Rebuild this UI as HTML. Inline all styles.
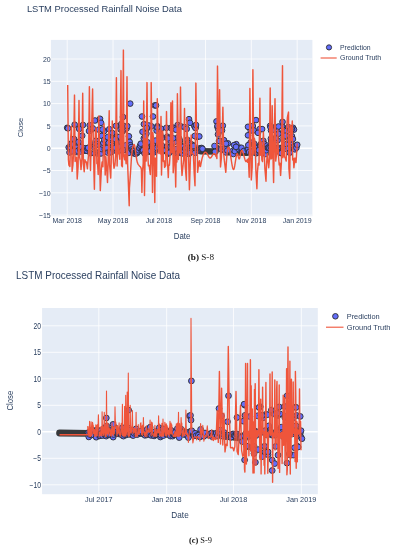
<!DOCTYPE html>
<html><head><meta charset="utf-8"><title>LSTM Processed Rainfall Noise Data</title>
<style>html,body{margin:0;padding:0;background:#fff;}body{width:394px;height:550px;overflow:hidden;}svg{display:block;}</style>
</head><body>
<svg width="394" height="550" viewBox="0 0 394 550">
<rect width="394" height="550" fill="#fff"/>
<rect x="50.9" y="39.9" width="261.50" height="176.30" fill="#e5ecf6"/>
<line x1="50.9" x2="312.4" y1="215.10" y2="215.10" stroke="#fff" stroke-width="0.8"/>
<line x1="50.9" x2="312.4" y1="192.80" y2="192.80" stroke="#fff" stroke-width="0.8"/>
<line x1="50.9" x2="312.4" y1="170.50" y2="170.50" stroke="#fff" stroke-width="0.8"/>
<line x1="50.9" x2="312.4" y1="148.20" y2="148.20" stroke="#fff" stroke-width="1.6"/>
<line x1="50.9" x2="312.4" y1="125.90" y2="125.90" stroke="#fff" stroke-width="0.8"/>
<line x1="50.9" x2="312.4" y1="103.60" y2="103.60" stroke="#fff" stroke-width="0.8"/>
<line x1="50.9" x2="312.4" y1="81.30" y2="81.30" stroke="#fff" stroke-width="0.8"/>
<line x1="50.9" x2="312.4" y1="59.00" y2="59.00" stroke="#fff" stroke-width="0.8"/>
<line x1="67.20" x2="67.20" y1="39.9" y2="216.2" stroke="#fff" stroke-width="0.8"/>
<line x1="113.04" x2="113.04" y1="39.9" y2="216.2" stroke="#fff" stroke-width="0.8"/>
<line x1="158.88" x2="158.88" y1="39.9" y2="216.2" stroke="#fff" stroke-width="0.8"/>
<line x1="205.48" x2="205.48" y1="39.9" y2="216.2" stroke="#fff" stroke-width="0.8"/>
<line x1="251.32" x2="251.32" y1="39.9" y2="216.2" stroke="#fff" stroke-width="0.8"/>
<line x1="297.16" x2="297.16" y1="39.9" y2="216.2" stroke="#fff" stroke-width="0.8"/>
<clipPath id="c1"><rect x="50.9" y="39.9" width="261.50" height="176.30"/></clipPath>
<path d="M200.8,151.3 L215.5,151.5" stroke="#37393b" stroke-width="6.4" stroke-linecap="round" fill="none"/>
<path d="M226.5,152.2 L247.0,152.7" stroke="#37393b" stroke-width="6.4" stroke-linecap="round" fill="none"/>
<g clip-path="url(#c1)" fill="#636efa" stroke="#2b2d30" stroke-width="0.9">
<circle cx="67.2" cy="127.8" r="2.85"/>
<circle cx="68.0" cy="128.3" r="2.85"/>
<circle cx="68.7" cy="147.4" r="2.85"/>
<circle cx="69.5" cy="152.4" r="2.85"/>
<circle cx="70.2" cy="147.1" r="2.85"/>
<circle cx="71.0" cy="143.9" r="2.85"/>
<circle cx="71.7" cy="143.2" r="2.85"/>
<circle cx="72.5" cy="151.3" r="2.85"/>
<circle cx="73.2" cy="144.6" r="2.85"/>
<circle cx="74.0" cy="139.0" r="2.85"/>
<circle cx="74.7" cy="124.7" r="2.85"/>
<circle cx="75.5" cy="147.5" r="2.85"/>
<circle cx="76.2" cy="147.8" r="2.85"/>
<circle cx="77.0" cy="152.1" r="2.85"/>
<circle cx="77.7" cy="150.8" r="2.85"/>
<circle cx="78.5" cy="141.9" r="2.85"/>
<circle cx="79.2" cy="128.9" r="2.85"/>
<circle cx="80.0" cy="148.9" r="2.85"/>
<circle cx="80.7" cy="151.5" r="2.85"/>
<circle cx="81.5" cy="146.9" r="2.85"/>
<circle cx="82.2" cy="135.7" r="2.85"/>
<circle cx="83.0" cy="125.0" r="2.85"/>
<circle cx="83.7" cy="150.7" r="2.85"/>
<circle cx="84.5" cy="149.2" r="2.85"/>
<circle cx="85.2" cy="148.3" r="2.85"/>
<circle cx="86.0" cy="150.8" r="2.85"/>
<circle cx="86.7" cy="150.6" r="2.85"/>
<circle cx="87.5" cy="148.4" r="2.85"/>
<circle cx="88.2" cy="147.8" r="2.85"/>
<circle cx="89.0" cy="131.0" r="2.85"/>
<circle cx="89.7" cy="125.3" r="2.85"/>
<circle cx="90.5" cy="153.2" r="2.85"/>
<circle cx="91.2" cy="144.4" r="2.85"/>
<circle cx="92.0" cy="129.3" r="2.85"/>
<circle cx="92.8" cy="128.3" r="2.85"/>
<circle cx="93.5" cy="146.7" r="2.85"/>
<circle cx="94.3" cy="153.3" r="2.85"/>
<circle cx="95.0" cy="145.6" r="2.85"/>
<circle cx="95.8" cy="140.7" r="2.85"/>
<circle cx="96.5" cy="143.9" r="2.85"/>
<circle cx="97.3" cy="152.5" r="2.85"/>
<circle cx="98.0" cy="153.4" r="2.85"/>
<circle cx="98.8" cy="129.6" r="2.85"/>
<circle cx="99.5" cy="145.6" r="2.85"/>
<circle cx="100.3" cy="153.2" r="2.85"/>
<circle cx="101.0" cy="153.4" r="2.85"/>
<circle cx="101.8" cy="149.0" r="2.85"/>
<circle cx="102.5" cy="144.6" r="2.85"/>
<circle cx="103.3" cy="142.9" r="2.85"/>
<circle cx="104.0" cy="131.2" r="2.85"/>
<circle cx="104.8" cy="149.2" r="2.85"/>
<circle cx="105.5" cy="151.5" r="2.85"/>
<circle cx="106.3" cy="151.6" r="2.85"/>
<circle cx="107.0" cy="148.0" r="2.85"/>
<circle cx="107.8" cy="152.6" r="2.85"/>
<circle cx="108.5" cy="142.5" r="2.85"/>
<circle cx="109.3" cy="129.2" r="2.85"/>
<circle cx="110.0" cy="151.9" r="2.85"/>
<circle cx="110.8" cy="152.3" r="2.85"/>
<circle cx="111.5" cy="145.1" r="2.85"/>
<circle cx="112.3" cy="133.0" r="2.85"/>
<circle cx="113.0" cy="146.2" r="2.85"/>
<circle cx="113.8" cy="150.5" r="2.85"/>
<circle cx="114.5" cy="149.1" r="2.85"/>
<circle cx="115.3" cy="147.7" r="2.85"/>
<circle cx="116.0" cy="125.9" r="2.85"/>
<circle cx="116.8" cy="136.6" r="2.85"/>
<circle cx="117.6" cy="144.5" r="2.85"/>
<circle cx="118.3" cy="142.7" r="2.85"/>
<circle cx="119.1" cy="145.9" r="2.85"/>
<circle cx="119.8" cy="147.2" r="2.85"/>
<circle cx="120.6" cy="129.6" r="2.85"/>
<circle cx="121.3" cy="124.0" r="2.85"/>
<circle cx="122.1" cy="150.6" r="2.85"/>
<circle cx="122.8" cy="131.1" r="2.85"/>
<circle cx="123.6" cy="126.0" r="2.85"/>
<circle cx="124.3" cy="147.6" r="2.85"/>
<circle cx="125.1" cy="150.0" r="2.85"/>
<circle cx="125.8" cy="145.3" r="2.85"/>
<circle cx="126.6" cy="128.4" r="2.85"/>
<circle cx="127.3" cy="126.2" r="2.85"/>
<circle cx="128.1" cy="150.8" r="2.85"/>
<circle cx="128.8" cy="152.8" r="2.85"/>
<circle cx="129.6" cy="141.8" r="2.85"/>
<circle cx="130.3" cy="145.2" r="2.85"/>
<circle cx="131.1" cy="147.1" r="2.85"/>
<circle cx="131.8" cy="149.5" r="2.85"/>
<circle cx="132.6" cy="150.9" r="2.85"/>
<circle cx="133.3" cy="151.3" r="2.85"/>
<circle cx="134.1" cy="153.4" r="2.85"/>
<circle cx="134.8" cy="152.8" r="2.85"/>
<circle cx="135.6" cy="153.8" r="2.85"/>
<circle cx="136.3" cy="152.3" r="2.85"/>
<circle cx="137.1" cy="153.0" r="2.85"/>
<circle cx="137.8" cy="151.8" r="2.85"/>
<circle cx="138.6" cy="150.3" r="2.85"/>
<circle cx="139.3" cy="147.9" r="2.85"/>
<circle cx="140.1" cy="145.6" r="2.85"/>
<circle cx="140.8" cy="143.7" r="2.85"/>
<circle cx="141.6" cy="150.9" r="2.85"/>
<circle cx="142.3" cy="150.1" r="2.85"/>
<circle cx="143.1" cy="150.3" r="2.85"/>
<circle cx="143.9" cy="124.2" r="2.85"/>
<circle cx="144.6" cy="153.5" r="2.85"/>
<circle cx="145.4" cy="141.7" r="2.85"/>
<circle cx="146.1" cy="147.4" r="2.85"/>
<circle cx="146.9" cy="128.5" r="2.85"/>
<circle cx="147.6" cy="142.3" r="2.85"/>
<circle cx="148.4" cy="148.7" r="2.85"/>
<circle cx="149.1" cy="151.8" r="2.85"/>
<circle cx="149.9" cy="150.7" r="2.85"/>
<circle cx="150.6" cy="151.1" r="2.85"/>
<circle cx="151.4" cy="126.3" r="2.85"/>
<circle cx="152.1" cy="147.0" r="2.85"/>
<circle cx="152.9" cy="144.9" r="2.85"/>
<circle cx="153.6" cy="143.7" r="2.85"/>
<circle cx="154.4" cy="152.2" r="2.85"/>
<circle cx="155.1" cy="150.4" r="2.85"/>
<circle cx="155.9" cy="149.3" r="2.85"/>
<circle cx="156.6" cy="147.8" r="2.85"/>
<circle cx="157.4" cy="126.2" r="2.85"/>
<circle cx="158.1" cy="143.9" r="2.85"/>
<circle cx="158.9" cy="147.4" r="2.85"/>
<circle cx="159.6" cy="136.9" r="2.85"/>
<circle cx="160.4" cy="146.1" r="2.85"/>
<circle cx="161.1" cy="128.7" r="2.85"/>
<circle cx="161.9" cy="145.6" r="2.85"/>
<circle cx="162.6" cy="137.6" r="2.85"/>
<circle cx="163.4" cy="151.0" r="2.85"/>
<circle cx="164.1" cy="150.4" r="2.85"/>
<circle cx="164.9" cy="150.5" r="2.85"/>
<circle cx="165.6" cy="150.1" r="2.85"/>
<circle cx="166.4" cy="127.8" r="2.85"/>
<circle cx="167.1" cy="146.6" r="2.85"/>
<circle cx="167.9" cy="153.7" r="2.85"/>
<circle cx="168.7" cy="148.7" r="2.85"/>
<circle cx="169.4" cy="152.7" r="2.85"/>
<circle cx="170.2" cy="147.1" r="2.85"/>
<circle cx="170.9" cy="127.9" r="2.85"/>
<circle cx="171.7" cy="147.6" r="2.85"/>
<circle cx="172.4" cy="127.4" r="2.85"/>
<circle cx="173.2" cy="150.9" r="2.85"/>
<circle cx="173.9" cy="149.0" r="2.85"/>
<circle cx="174.7" cy="141.8" r="2.85"/>
<circle cx="175.4" cy="151.6" r="2.85"/>
<circle cx="176.2" cy="152.9" r="2.85"/>
<circle cx="176.9" cy="148.9" r="2.85"/>
<circle cx="177.7" cy="125.0" r="2.85"/>
<circle cx="178.4" cy="153.0" r="2.85"/>
<circle cx="179.2" cy="138.6" r="2.85"/>
<circle cx="179.9" cy="140.9" r="2.85"/>
<circle cx="180.7" cy="126.3" r="2.85"/>
<circle cx="181.4" cy="145.9" r="2.85"/>
<circle cx="182.2" cy="153.4" r="2.85"/>
<circle cx="182.9" cy="147.0" r="2.85"/>
<circle cx="183.7" cy="150.5" r="2.85"/>
<circle cx="184.4" cy="127.1" r="2.85"/>
<circle cx="185.2" cy="148.7" r="2.85"/>
<circle cx="185.9" cy="152.6" r="2.85"/>
<circle cx="186.7" cy="128.9" r="2.85"/>
<circle cx="187.4" cy="139.9" r="2.85"/>
<circle cx="188.2" cy="142.8" r="2.85"/>
<circle cx="188.9" cy="153.9" r="2.85"/>
<circle cx="189.7" cy="152.7" r="2.85"/>
<circle cx="190.4" cy="147.6" r="2.85"/>
<circle cx="191.2" cy="144.3" r="2.85"/>
<circle cx="191.9" cy="146.9" r="2.85"/>
<circle cx="192.7" cy="145.0" r="2.85"/>
<circle cx="193.5" cy="146.1" r="2.85"/>
<circle cx="194.2" cy="151.7" r="2.85"/>
<circle cx="195.0" cy="152.9" r="2.85"/>
<circle cx="195.7" cy="127.6" r="2.85"/>
<circle cx="196.5" cy="136.8" r="2.85"/>
<circle cx="197.2" cy="137.0" r="2.85"/>
<circle cx="198.0" cy="150.5" r="2.85"/>
<circle cx="198.7" cy="149.1" r="2.85"/>
<circle cx="199.5" cy="149.3" r="2.85"/>
<circle cx="200.2" cy="148.2" r="2.85"/>
<circle cx="201.0" cy="148.8" r="2.85"/>
<circle cx="201.7" cy="148.0" r="2.85"/>
<circle cx="202.5" cy="148.8" r="2.85"/>
<circle cx="216.7" cy="147.9" r="2.85"/>
<circle cx="217.5" cy="127.0" r="2.85"/>
<circle cx="218.3" cy="129.4" r="2.85"/>
<circle cx="219.0" cy="141.0" r="2.85"/>
<circle cx="219.8" cy="127.1" r="2.85"/>
<circle cx="220.5" cy="148.8" r="2.85"/>
<circle cx="221.3" cy="149.3" r="2.85"/>
<circle cx="222.0" cy="141.2" r="2.85"/>
<circle cx="222.8" cy="125.7" r="2.85"/>
<circle cx="223.5" cy="142.4" r="2.85"/>
<circle cx="224.3" cy="150.0" r="2.85"/>
<circle cx="225.0" cy="147.8" r="2.85"/>
<circle cx="225.8" cy="152.3" r="2.85"/>
<circle cx="226.5" cy="148.4" r="2.85"/>
<circle cx="227.3" cy="150.5" r="2.85"/>
<circle cx="228.0" cy="143.4" r="2.85"/>
<circle cx="232.5" cy="151.0" r="2.85"/>
<circle cx="233.3" cy="154.0" r="2.85"/>
<circle cx="234.8" cy="151.1" r="2.85"/>
<circle cx="236.3" cy="144.2" r="2.85"/>
<circle cx="238.5" cy="148.9" r="2.85"/>
<circle cx="240.0" cy="147.8" r="2.85"/>
<circle cx="241.5" cy="147.8" r="2.85"/>
<circle cx="243.8" cy="151.0" r="2.85"/>
<circle cx="247.6" cy="149.4" r="2.85"/>
<circle cx="248.3" cy="148.7" r="2.85"/>
<circle cx="249.1" cy="152.1" r="2.85"/>
<circle cx="249.8" cy="127.2" r="2.85"/>
<circle cx="250.6" cy="142.5" r="2.85"/>
<circle cx="251.3" cy="153.0" r="2.85"/>
<circle cx="252.1" cy="151.5" r="2.85"/>
<circle cx="252.8" cy="126.0" r="2.85"/>
<circle cx="253.6" cy="144.6" r="2.85"/>
<circle cx="254.3" cy="143.8" r="2.85"/>
<circle cx="255.1" cy="147.7" r="2.85"/>
<circle cx="255.8" cy="153.0" r="2.85"/>
<circle cx="256.6" cy="153.1" r="2.85"/>
<circle cx="257.3" cy="152.2" r="2.85"/>
<circle cx="258.1" cy="150.5" r="2.85"/>
<circle cx="258.8" cy="150.2" r="2.85"/>
<circle cx="259.6" cy="129.1" r="2.85"/>
<circle cx="260.3" cy="145.0" r="2.85"/>
<circle cx="261.1" cy="143.7" r="2.85"/>
<circle cx="261.8" cy="143.2" r="2.85"/>
<circle cx="262.6" cy="147.7" r="2.85"/>
<circle cx="263.3" cy="140.8" r="2.85"/>
<circle cx="264.1" cy="143.8" r="2.85"/>
<circle cx="264.8" cy="149.6" r="2.85"/>
<circle cx="265.6" cy="153.9" r="2.85"/>
<circle cx="266.3" cy="150.3" r="2.85"/>
<circle cx="267.1" cy="145.6" r="2.85"/>
<circle cx="267.9" cy="147.9" r="2.85"/>
<circle cx="268.6" cy="147.3" r="2.85"/>
<circle cx="269.4" cy="147.9" r="2.85"/>
<circle cx="270.1" cy="125.9" r="2.85"/>
<circle cx="270.9" cy="146.9" r="2.85"/>
<circle cx="271.6" cy="148.6" r="2.85"/>
<circle cx="272.4" cy="127.3" r="2.85"/>
<circle cx="273.1" cy="148.7" r="2.85"/>
<circle cx="273.9" cy="148.9" r="2.85"/>
<circle cx="274.6" cy="128.8" r="2.85"/>
<circle cx="275.4" cy="127.9" r="2.85"/>
<circle cx="276.1" cy="149.3" r="2.85"/>
<circle cx="276.9" cy="147.9" r="2.85"/>
<circle cx="277.6" cy="140.4" r="2.85"/>
<circle cx="278.4" cy="147.8" r="2.85"/>
<circle cx="279.1" cy="149.6" r="2.85"/>
<circle cx="279.9" cy="152.1" r="2.85"/>
<circle cx="280.6" cy="152.8" r="2.85"/>
<circle cx="281.4" cy="153.1" r="2.85"/>
<circle cx="282.1" cy="126.2" r="2.85"/>
<circle cx="282.9" cy="147.0" r="2.85"/>
<circle cx="283.6" cy="137.6" r="2.85"/>
<circle cx="284.4" cy="145.6" r="2.85"/>
<circle cx="285.1" cy="147.1" r="2.85"/>
<circle cx="285.9" cy="148.8" r="2.85"/>
<circle cx="286.6" cy="144.1" r="2.85"/>
<circle cx="287.4" cy="130.3" r="2.85"/>
<circle cx="288.1" cy="127.1" r="2.85"/>
<circle cx="288.9" cy="148.4" r="2.85"/>
<circle cx="289.6" cy="152.7" r="2.85"/>
<circle cx="290.4" cy="139.1" r="2.85"/>
<circle cx="291.1" cy="142.2" r="2.85"/>
<circle cx="291.9" cy="137.0" r="2.85"/>
<circle cx="292.6" cy="129.2" r="2.85"/>
<circle cx="293.4" cy="147.2" r="2.85"/>
<circle cx="294.2" cy="148.5" r="2.85"/>
<circle cx="294.9" cy="149.3" r="2.85"/>
<circle cx="295.7" cy="145.9" r="2.85"/>
<circle cx="296.4" cy="147.7" r="2.85"/>
<circle cx="297.2" cy="144.8" r="2.85"/>
<circle cx="101.9" cy="135.9" r="2.85"/>
<circle cx="119.5" cy="136.9" r="2.85"/>
<circle cx="104.3" cy="139.8" r="2.85"/>
<circle cx="110.7" cy="137.8" r="2.85"/>
<circle cx="116.2" cy="140.6" r="2.85"/>
<circle cx="107.6" cy="137.1" r="2.85"/>
<circle cx="102.5" cy="129.4" r="2.85"/>
<circle cx="115.4" cy="139.2" r="2.85"/>
<circle cx="122.2" cy="130.7" r="2.85"/>
<circle cx="128.9" cy="136.3" r="2.85"/>
<circle cx="155.3" cy="140.6" r="2.85"/>
<circle cx="170.0" cy="140.6" r="2.85"/>
<circle cx="167.3" cy="136.7" r="2.85"/>
<circle cx="167.9" cy="138.4" r="2.85"/>
<circle cx="148.8" cy="125.5" r="2.85"/>
<circle cx="174.7" cy="128.6" r="2.85"/>
<circle cx="194.3" cy="126.0" r="2.85"/>
<circle cx="142.5" cy="131.8" r="2.85"/>
<circle cx="146.7" cy="127.9" r="2.85"/>
<circle cx="176.0" cy="129.7" r="2.85"/>
<circle cx="160.5" cy="136.4" r="2.85"/>
<circle cx="156.6" cy="130.6" r="2.85"/>
<circle cx="199.3" cy="136.4" r="2.85"/>
<circle cx="159.9" cy="133.6" r="2.85"/>
<circle cx="195.4" cy="127.9" r="2.85"/>
<circle cx="177.8" cy="137.5" r="2.85"/>
<circle cx="143.8" cy="138.3" r="2.85"/>
<circle cx="157.4" cy="127.4" r="2.85"/>
<circle cx="146.4" cy="133.6" r="2.85"/>
<circle cx="173.2" cy="138.3" r="2.85"/>
<circle cx="194.7" cy="136.0" r="2.85"/>
<circle cx="145.1" cy="136.6" r="2.85"/>
<circle cx="291.9" cy="136.2" r="2.85"/>
<circle cx="271.2" cy="140.9" r="2.85"/>
<circle cx="293.1" cy="127.8" r="2.85"/>
<circle cx="271.0" cy="130.4" r="2.85"/>
<circle cx="294.0" cy="129.6" r="2.85"/>
<circle cx="292.9" cy="139.1" r="2.85"/>
<circle cx="275.8" cy="137.8" r="2.85"/>
<circle cx="286.5" cy="131.0" r="2.85"/>
<circle cx="262.1" cy="129.1" r="2.85"/>
<circle cx="253.7" cy="130.4" r="2.85"/>
<circle cx="277.6" cy="131.5" r="2.85"/>
<circle cx="250.7" cy="130.6" r="2.85"/>
<circle cx="270.9" cy="138.7" r="2.85"/>
<circle cx="278.4" cy="133.8" r="2.85"/>
<circle cx="285.6" cy="135.8" r="2.85"/>
<circle cx="291.9" cy="129.2" r="2.85"/>
<circle cx="258.0" cy="132.8" r="2.85"/>
<circle cx="290.4" cy="129.5" r="2.85"/>
<circle cx="272.3" cy="129.9" r="2.85"/>
<circle cx="278.5" cy="126.5" r="2.85"/>
<circle cx="270.6" cy="127.3" r="2.85"/>
<circle cx="289.5" cy="140.2" r="2.85"/>
<circle cx="130.2" cy="103.6" r="2.85"/>
<circle cx="154.8" cy="105.4" r="2.85"/>
<circle cx="156.0" cy="105.4" r="2.85"/>
<circle cx="95.0" cy="120.5" r="2.85"/>
<circle cx="100.0" cy="118.8" r="2.85"/>
<circle cx="101.0" cy="122.8" r="2.85"/>
<circle cx="123.0" cy="117.0" r="2.85"/>
<circle cx="142.0" cy="116.5" r="2.85"/>
<circle cx="153.0" cy="116.5" r="2.85"/>
<circle cx="189.0" cy="119.2" r="2.85"/>
<circle cx="190.0" cy="122.8" r="2.85"/>
<circle cx="196.0" cy="125.0" r="2.85"/>
<circle cx="216.5" cy="121.4" r="2.85"/>
<circle cx="217.5" cy="125.9" r="2.85"/>
<circle cx="218.0" cy="134.4" r="2.85"/>
<circle cx="219.5" cy="141.1" r="2.85"/>
<circle cx="222.0" cy="130.4" r="2.85"/>
<circle cx="224.0" cy="140.2" r="2.85"/>
<circle cx="226.0" cy="143.7" r="2.85"/>
<circle cx="214.5" cy="146.0" r="2.85"/>
<circle cx="215.0" cy="151.8" r="2.85"/>
<circle cx="234.0" cy="145.1" r="2.85"/>
<circle cx="236.0" cy="146.9" r="2.85"/>
<circle cx="248.0" cy="126.8" r="2.85"/>
<circle cx="248.0" cy="135.3" r="2.85"/>
<circle cx="248.3" cy="145.1" r="2.85"/>
<circle cx="256.0" cy="120.1" r="2.85"/>
<circle cx="282.5" cy="121.9" r="2.85"/>
</g>
<path d="M67.7,84.9 L68.4,159.6 L68.9,165.1 L69.9,166.5 L70.6,139.1 L71.4,126.3 L72.1,171.4 L72.9,165.0 L73.6,153.0 L74.5,95.1 L75.1,161.5 L75.9,159.4 L76.6,157.2 L77.2,179.0 L78.1,166.4 L79.0,100.5 L79.6,157.1 L80.4,160.8 L81.0,169.6 L81.9,158.9 L82.7,93.3 L83.4,163.9 L84.2,171.8 L84.9,159.8 L85.6,161.7 L86.4,162.0 L87.4,168.7 L87.9,161.9 L88.6,154.2 L89.4,86.7 L90.1,158.7 L90.5,170.5 L91.6,129.5 L92.6,88.9 L93.1,129.8 L93.9,171.1 L94.4,189.2 L95.4,132.4 L96.1,127.7 L96.9,163.7 L97.6,164.1 L98.2,174.5 L98.8,116.1 L99.9,172.9 L100.3,190.6 L101.4,168.7 L102.1,161.9 L102.9,166.7 L103.6,138.4 L104.0,123.7 L105.2,175.0 L105.9,156.8 L106.6,166.1 L107.5,182.5 L108.1,163.8 L109.2,110.7 L109.6,165.1 L110.7,178.1 L111.1,165.6 L111.9,136.9 L112.3,121.0 L113.4,162.2 L114.0,168.3 L114.9,165.1 L115.6,156.1 L116.4,77.7 L117.1,166.0 L117.9,141.0 L118.6,153.7 L119.4,154.4 L119.8,159.3 L121.0,70.6 L121.6,165.6 L122.4,166.7 L123.4,50.1 L123.9,156.2 L124.6,159.7 L125.4,154.4 L126.1,163.7 L127.0,76.8 L127.6,163.1 L128.4,184.4 L129.2,205.7 L129.4,188.3 L129.8,182.7 L130.2,177.1 L130.6,171.2 L131.0,164.7 L131.4,158.4 L131.8,154.0 L132.2,150.6 L132.6,148.0 L133.0,146.4 L133.4,145.6 L133.8,145.0 L134.2,144.6 L134.6,145.3 L135.0,147.4 L135.4,150.0 L135.8,153.0 L136.2,156.4 L136.6,159.0 L137.0,161.1 L137.4,162.6 L137.8,163.6 L138.2,164.3 L138.6,164.9 L139.0,165.4 L139.4,165.9 L139.8,166.3 L140.2,166.6 L140.6,167.1 L141.0,168.0 L141.4,169.3 L141.9,192.4 L142.4,172.2 L143.2,163.2 L143.7,100.9 L144.5,195.5 L145.4,138.5 L146.2,161.0 L147.0,82.6 L147.7,152.6 L148.4,165.8 L149.2,165.3 L150.3,174.5 L150.7,163.0 L151.2,82.6 L152.5,192.4 L152.9,132.8 L153.7,140.5 L154.8,202.6 L155.2,158.0 L155.9,165.2 L156.5,176.3 L157.3,98.7 L158.2,140.5 L158.9,153.5 L159.7,130.2 L160.4,153.9 L161.0,116.5 L161.5,175.0 L162.7,131.1 L163.4,161.6 L164.2,160.8 L164.6,167.4 L165.7,165.7 L166.5,111.6 L167.2,155.0 L168.3,177.6 L168.7,165.3 L169.4,165.2 L170.2,153.6 L170.9,102.7 L171.7,152.7 L172.5,100.9 L173.2,172.7 L173.9,163.2 L174.7,141.4 L175.7,187.0 L176.2,156.3 L176.9,162.1 L177.4,93.8 L178.4,159.5 L179.2,127.9 L179.9,152.7 L180.5,87.1 L181.4,163.9 L182.0,175.4 L182.9,166.5 L183.7,159.7 L184.5,108.5 L185.2,166.5 L186.4,180.3 L187.0,117.9 L187.4,136.9 L188.2,137.6 L188.9,169.5 L189.4,189.7 L190.4,159.3 L191.2,135.1 L191.9,153.5 L192.7,153.2 L193.4,155.2 L194.2,173.2 L195.0,185.7 L195.9,83.1 L196.4,127.0 L197.2,128.6 L197.6,172.3 L198.7,163.3 L199.4,160.7 L200.0,166.5 L200.5,166.5 L200.9,164.1 L201.3,162.0 L201.7,160.1 L202.1,158.4 L202.5,156.9 L202.9,155.7 L203.3,154.6 L203.7,153.8 L204.1,153.2 L204.5,152.7 L204.9,152.4 L205.3,152.3 L205.7,152.3 L206.1,152.5 L206.5,152.9 L206.9,153.4 L207.3,154.0 L207.7,154.8 L208.1,155.5 L208.5,156.3 L208.9,157.0 L209.3,157.5 L209.7,157.9 L210.1,158.0 L210.5,157.9 L210.9,157.6 L211.3,157.1 L211.7,156.5 L212.1,155.8 L212.5,155.2 L212.9,154.6 L213.3,154.1 L213.7,153.7 L214.1,153.6 L214.5,153.6 L214.9,154.0 L215.3,154.8 L215.7,156.0 L216.2,155.6 L216.9,158.6 L217.5,66.1 L218.4,135.6 L219.2,130.5 L219.6,89.8 L220.5,166.9 L221.4,158.0 L222.2,136.9 L222.9,107.2 L223.7,153.6 L224.4,160.9 L225.8,172.3 L225.9,170.9 L226.3,163.5 L226.7,157.6 L227.1,153.2 L227.5,150.1 L227.9,148.1 L228.3,147.2 L228.7,147.2 L229.1,148.0 L229.5,149.5 L229.9,151.4 L230.3,153.7 L230.7,156.3 L231.1,158.9 L231.5,161.5 L231.9,164.0 L232.3,166.2 L232.7,167.9 L233.1,169.1 L233.5,169.5 L233.9,169.2 L234.3,167.9 L234.7,165.9 L235.1,163.5 L235.5,160.8 L235.9,158.3 L236.3,156.0 L236.7,154.4 L237.1,153.6 L237.5,153.8 L237.9,155.0 L238.3,156.7 L238.7,158.1 L239.1,158.9 L239.5,158.5 L239.9,157.0 L240.3,155.1 L240.7,153.0 L241.1,151.4 L241.5,150.6 L241.9,150.4 L242.3,150.7 L242.7,151.5 L243.1,152.7 L243.5,154.1 L243.9,155.6 L244.3,157.1 L244.7,158.6 L245.1,159.9 L245.5,160.9 L245.9,161.5 L246.3,161.6 L246.7,161.1 L247.1,159.8 L247.7,162.2 L248.4,158.5 L249.2,177.2 L249.9,88.4 L250.7,154.7 L251.3,179.9 L252.2,166.9 L252.9,69.7 L253.7,154.2 L254.4,138.3 L255.2,142.8 L255.9,170.7 L256.9,188.8 L257.4,172.6 L258.2,163.4 L259.0,165.1 L259.9,98.2 L260.4,155.2 L261.2,141.9 L261.9,159.9 L262.5,161.6 L263.4,132.1 L264.2,152.5 L264.9,168.8 L266.0,181.2 L266.4,167.5 L267.2,153.7 L267.9,159.7 L268.7,167.8 L269.4,160.3 L270.2,88.0 L270.9,159.1 L271.7,158.2 L272.2,105.8 L273.2,166.7 L273.6,182.5 L275.0,98.7 L275.7,161.1 L276.2,157.1 L276.9,152.6 L277.7,129.9 L278.4,155.0 L279.2,164.9 L279.9,163.2 L280.6,175.4 L281.4,162.4 L282.5,65.7 L282.9,157.7 L283.7,128.6 L284.4,156.5 L285.2,157.8 L286.2,161.1 L286.7,128.6 L287.4,117.5 L288.5,112.1 L288.9,168.5 L289.7,178.5 L290.4,125.1 L291.2,140.2 L292.3,121.0 L292.7,159.9 L293.4,158.4 L293.9,167.8 L294.9,158.0 L296.0,162.5 L296.4,157.2 L297.2,143.5" fill="none" stroke="#ef553b" stroke-width="1.45" stroke-linejoin="round" clip-path="url(#c1)" opacity="1"/>
<text transform="translate(50.70,217.94) scale(0.88,1)" font-size="7.9" text-anchor="end" fill="#2a3f5f" font-family="'Liberation Sans', Arial, sans-serif">−15</text>
<text transform="translate(50.70,195.64) scale(0.88,1)" font-size="7.9" text-anchor="end" fill="#2a3f5f" font-family="'Liberation Sans', Arial, sans-serif">−10</text>
<text transform="translate(50.70,173.34) scale(0.88,1)" font-size="7.9" text-anchor="end" fill="#2a3f5f" font-family="'Liberation Sans', Arial, sans-serif">−5</text>
<text transform="translate(50.70,151.04) scale(0.88,1)" font-size="7.9" text-anchor="end" fill="#2a3f5f" font-family="'Liberation Sans', Arial, sans-serif">0</text>
<text transform="translate(50.70,128.74) scale(0.88,1)" font-size="7.9" text-anchor="end" fill="#2a3f5f" font-family="'Liberation Sans', Arial, sans-serif">5</text>
<text transform="translate(50.70,106.44) scale(0.88,1)" font-size="7.9" text-anchor="end" fill="#2a3f5f" font-family="'Liberation Sans', Arial, sans-serif">10</text>
<text transform="translate(50.70,84.14) scale(0.88,1)" font-size="7.9" text-anchor="end" fill="#2a3f5f" font-family="'Liberation Sans', Arial, sans-serif">15</text>
<text transform="translate(50.70,61.84) scale(0.88,1)" font-size="7.9" text-anchor="end" fill="#2a3f5f" font-family="'Liberation Sans', Arial, sans-serif">20</text>
<text x="67.20" y="223.32" font-size="7" text-anchor="middle" fill="#2a3f5f" font-family="'Liberation Sans', Arial, sans-serif">Mar 2018</text>
<text x="113.04" y="223.32" font-size="7" text-anchor="middle" fill="#2a3f5f" font-family="'Liberation Sans', Arial, sans-serif">May 2018</text>
<text x="158.88" y="223.32" font-size="7" text-anchor="middle" fill="#2a3f5f" font-family="'Liberation Sans', Arial, sans-serif">Jul 2018</text>
<text x="205.48" y="223.32" font-size="7" text-anchor="middle" fill="#2a3f5f" font-family="'Liberation Sans', Arial, sans-serif">Sep 2018</text>
<text x="251.32" y="223.32" font-size="7" text-anchor="middle" fill="#2a3f5f" font-family="'Liberation Sans', Arial, sans-serif">Nov 2018</text>
<text x="297.16" y="223.32" font-size="7" text-anchor="middle" fill="#2a3f5f" font-family="'Liberation Sans', Arial, sans-serif">Jan 2019</text>
<text x="26.90" y="12.20" font-size="9.6" text-anchor="start" fill="#2a3f5f" font-family="'Liberation Sans', Arial, sans-serif" textLength="155" lengthAdjust="spacingAndGlyphs">LSTM Processed Rainfall Noise Data</text>
<text transform="translate(23,127.5) rotate(-90)" x="0" y="0" font-size="7.3" text-anchor="middle" fill="#2a3f5f" font-family="'Liberation Sans', Arial, sans-serif" textLength="19.3" lengthAdjust="spacingAndGlyphs">Close</text>
<text x="182.05" y="238.60" font-size="8.3" text-anchor="middle" fill="#2a3f5f" font-family="'Liberation Sans', Arial, sans-serif" textLength="16.6" lengthAdjust="spacingAndGlyphs">Date</text>
<circle cx="329" cy="47.4" r="2.6" fill="#636efa" stroke="#2b2d30" stroke-width="0.9"/>
<line x1="320.6" x2="336.7" y1="58" y2="58" stroke="#ef553b" stroke-width="1.1"/>
<text x="340.00" y="49.70" font-size="6.6" text-anchor="start" fill="#2a3f5f" font-family="'Liberation Sans', Arial, sans-serif" textLength="30.7" lengthAdjust="spacingAndGlyphs">Prediction</text>
<text x="340.00" y="60.20" font-size="6.6" text-anchor="start" fill="#2a3f5f" font-family="'Liberation Sans', Arial, sans-serif" textLength="41.2" lengthAdjust="spacingAndGlyphs">Ground Truth</text>
<text x="187.8" y="259.8" font-size="8.6" textLength="26.2" lengthAdjust="spacingAndGlyphs" fill="#111" font-family="'Liberation Serif', 'Times New Roman', serif"><tspan font-weight="bold">(b)</tspan> S-8</text>
<rect x="42.1" y="308.0" width="275.70" height="186.20" fill="#e5ecf6"/>
<line x1="42.1" x2="317.8" y1="484.80" y2="484.80" stroke="#fff" stroke-width="0.8"/>
<line x1="42.1" x2="317.8" y1="458.30" y2="458.30" stroke="#fff" stroke-width="0.8"/>
<line x1="42.1" x2="317.8" y1="431.80" y2="431.80" stroke="#fff" stroke-width="1.6"/>
<line x1="42.1" x2="317.8" y1="405.30" y2="405.30" stroke="#fff" stroke-width="0.8"/>
<line x1="42.1" x2="317.8" y1="378.80" y2="378.80" stroke="#fff" stroke-width="0.8"/>
<line x1="42.1" x2="317.8" y1="352.30" y2="352.30" stroke="#fff" stroke-width="0.8"/>
<line x1="42.1" x2="317.8" y1="325.80" y2="325.80" stroke="#fff" stroke-width="0.8"/>
<line x1="98.80" x2="98.80" y1="308.0" y2="494.2" stroke="#fff" stroke-width="0.8"/>
<line x1="166.68" x2="166.68" y1="308.0" y2="494.2" stroke="#fff" stroke-width="0.8"/>
<line x1="233.45" x2="233.45" y1="308.0" y2="494.2" stroke="#fff" stroke-width="0.8"/>
<line x1="301.33" x2="301.33" y1="308.0" y2="494.2" stroke="#fff" stroke-width="0.8"/>
<clipPath id="c2"><rect x="42.1" y="308.0" width="275.70" height="186.20"/></clipPath>
<path d="M88.0,433.4 L190.0,433.7 L215.0,434.4 L243.5,438.7" stroke="#37393b" stroke-width="6.6" stroke-linecap="round" stroke-linejoin="round" fill="none"/>
<path d="M59.6,433.0 L88.0,433.4" stroke="#37393b" stroke-width="6.9" stroke-linecap="round" fill="none"/>
<g clip-path="url(#c2)" fill="#636efa" stroke="#2b2d30" stroke-width="0.9">
<circle cx="88.1" cy="432.7" r="2.9"/>
<circle cx="88.8" cy="436.9" r="2.9"/>
<circle cx="89.6" cy="432.3" r="2.9"/>
<circle cx="89.9" cy="434.5" r="2.9"/>
<circle cx="91.8" cy="434.9" r="2.9"/>
<circle cx="92.2" cy="432.9" r="2.9"/>
<circle cx="92.5" cy="430.0" r="2.9"/>
<circle cx="92.9" cy="431.7" r="2.9"/>
<circle cx="93.6" cy="435.0" r="2.9"/>
<circle cx="95.5" cy="432.5" r="2.9"/>
<circle cx="96.2" cy="437.2" r="2.9"/>
<circle cx="97.0" cy="432.3" r="2.9"/>
<circle cx="97.3" cy="429.8" r="2.9"/>
<circle cx="97.7" cy="431.2" r="2.9"/>
<circle cx="99.2" cy="433.2" r="2.9"/>
<circle cx="99.5" cy="435.9" r="2.9"/>
<circle cx="99.9" cy="435.6" r="2.9"/>
<circle cx="100.3" cy="434.0" r="2.9"/>
<circle cx="100.6" cy="432.5" r="2.9"/>
<circle cx="101.0" cy="430.6" r="2.9"/>
<circle cx="101.4" cy="433.3" r="2.9"/>
<circle cx="102.5" cy="435.6" r="2.9"/>
<circle cx="103.2" cy="431.7" r="2.9"/>
<circle cx="104.3" cy="428.2" r="2.9"/>
<circle cx="104.7" cy="431.0" r="2.9"/>
<circle cx="105.1" cy="435.2" r="2.9"/>
<circle cx="106.2" cy="436.1" r="2.9"/>
<circle cx="106.5" cy="425.9" r="2.9"/>
<circle cx="106.9" cy="434.5" r="2.9"/>
<circle cx="107.7" cy="434.2" r="2.9"/>
<circle cx="108.0" cy="432.7" r="2.9"/>
<circle cx="109.1" cy="433.3" r="2.9"/>
<circle cx="109.5" cy="434.8" r="2.9"/>
<circle cx="109.9" cy="430.4" r="2.9"/>
<circle cx="111.3" cy="435.0" r="2.9"/>
<circle cx="111.7" cy="430.5" r="2.9"/>
<circle cx="112.8" cy="431.4" r="2.9"/>
<circle cx="113.2" cy="437.1" r="2.9"/>
<circle cx="113.6" cy="434.5" r="2.9"/>
<circle cx="114.7" cy="430.7" r="2.9"/>
<circle cx="115.0" cy="427.6" r="2.9"/>
<circle cx="116.5" cy="433.0" r="2.9"/>
<circle cx="116.9" cy="433.1" r="2.9"/>
<circle cx="117.2" cy="432.0" r="2.9"/>
<circle cx="118.4" cy="432.7" r="2.9"/>
<circle cx="119.5" cy="434.1" r="2.9"/>
<circle cx="120.2" cy="432.6" r="2.9"/>
<circle cx="120.9" cy="434.0" r="2.9"/>
<circle cx="121.3" cy="431.9" r="2.9"/>
<circle cx="121.7" cy="430.1" r="2.9"/>
<circle cx="122.0" cy="433.3" r="2.9"/>
<circle cx="122.4" cy="427.7" r="2.9"/>
<circle cx="122.8" cy="435.6" r="2.9"/>
<circle cx="123.5" cy="436.1" r="2.9"/>
<circle cx="123.9" cy="432.4" r="2.9"/>
<circle cx="124.3" cy="434.5" r="2.9"/>
<circle cx="126.5" cy="434.8" r="2.9"/>
<circle cx="126.8" cy="434.2" r="2.9"/>
<circle cx="128.3" cy="428.0" r="2.9"/>
<circle cx="128.7" cy="433.8" r="2.9"/>
<circle cx="129.8" cy="434.4" r="2.9"/>
<circle cx="130.2" cy="430.1" r="2.9"/>
<circle cx="130.9" cy="434.1" r="2.9"/>
<circle cx="133.1" cy="435.6" r="2.9"/>
<circle cx="133.5" cy="432.0" r="2.9"/>
<circle cx="133.8" cy="430.4" r="2.9"/>
<circle cx="134.2" cy="433.4" r="2.9"/>
<circle cx="134.6" cy="430.9" r="2.9"/>
<circle cx="136.1" cy="428.8" r="2.9"/>
<circle cx="136.4" cy="433.2" r="2.9"/>
<circle cx="137.2" cy="434.6" r="2.9"/>
<circle cx="137.9" cy="433.1" r="2.9"/>
<circle cx="138.3" cy="431.6" r="2.9"/>
<circle cx="139.0" cy="432.7" r="2.9"/>
<circle cx="140.5" cy="431.1" r="2.9"/>
<circle cx="141.2" cy="431.1" r="2.9"/>
<circle cx="144.9" cy="435.3" r="2.9"/>
<circle cx="145.3" cy="433.1" r="2.9"/>
<circle cx="145.7" cy="431.7" r="2.9"/>
<circle cx="146.4" cy="431.6" r="2.9"/>
<circle cx="146.8" cy="434.9" r="2.9"/>
<circle cx="147.1" cy="429.3" r="2.9"/>
<circle cx="147.9" cy="433.3" r="2.9"/>
<circle cx="148.2" cy="433.8" r="2.9"/>
<circle cx="148.6" cy="432.1" r="2.9"/>
<circle cx="149.0" cy="433.6" r="2.9"/>
<circle cx="149.7" cy="434.2" r="2.9"/>
<circle cx="150.1" cy="427.2" r="2.9"/>
<circle cx="151.2" cy="435.4" r="2.9"/>
<circle cx="152.7" cy="434.1" r="2.9"/>
<circle cx="154.1" cy="435.9" r="2.9"/>
<circle cx="154.9" cy="431.7" r="2.9"/>
<circle cx="155.2" cy="434.7" r="2.9"/>
<circle cx="156.0" cy="434.2" r="2.9"/>
<circle cx="157.8" cy="431.6" r="2.9"/>
<circle cx="158.9" cy="431.6" r="2.9"/>
<circle cx="159.3" cy="427.7" r="2.9"/>
<circle cx="160.0" cy="432.5" r="2.9"/>
<circle cx="160.4" cy="437.0" r="2.9"/>
<circle cx="160.8" cy="434.6" r="2.9"/>
<circle cx="161.1" cy="435.3" r="2.9"/>
<circle cx="162.3" cy="432.7" r="2.9"/>
<circle cx="163.0" cy="428.8" r="2.9"/>
<circle cx="163.4" cy="435.6" r="2.9"/>
<circle cx="166.7" cy="434.4" r="2.9"/>
<circle cx="167.0" cy="431.5" r="2.9"/>
<circle cx="167.4" cy="432.9" r="2.9"/>
<circle cx="167.8" cy="434.1" r="2.9"/>
<circle cx="168.2" cy="431.8" r="2.9"/>
<circle cx="170.0" cy="432.7" r="2.9"/>
<circle cx="170.4" cy="436.1" r="2.9"/>
<circle cx="170.7" cy="432.4" r="2.9"/>
<circle cx="171.1" cy="430.3" r="2.9"/>
<circle cx="172.2" cy="434.2" r="2.9"/>
<circle cx="172.6" cy="436.1" r="2.9"/>
<circle cx="173.3" cy="434.4" r="2.9"/>
<circle cx="174.1" cy="434.8" r="2.9"/>
<circle cx="174.4" cy="434.1" r="2.9"/>
<circle cx="175.2" cy="432.3" r="2.9"/>
<circle cx="177.0" cy="434.2" r="2.9"/>
<circle cx="177.4" cy="428.5" r="2.9"/>
<circle cx="178.9" cy="434.3" r="2.9"/>
<circle cx="179.2" cy="437.6" r="2.9"/>
<circle cx="180.7" cy="432.6" r="2.9"/>
<circle cx="181.1" cy="429.4" r="2.9"/>
<circle cx="181.4" cy="429.4" r="2.9"/>
<circle cx="181.8" cy="432.2" r="2.9"/>
<circle cx="182.5" cy="431.3" r="2.9"/>
<circle cx="183.3" cy="432.3" r="2.9"/>
<circle cx="183.6" cy="432.3" r="2.9"/>
<circle cx="184.4" cy="434.6" r="2.9"/>
<circle cx="186.2" cy="432.8" r="2.9"/>
<circle cx="187.0" cy="432.9" r="2.9"/>
<circle cx="187.3" cy="435.6" r="2.9"/>
<circle cx="187.7" cy="432.6" r="2.9"/>
<circle cx="188.4" cy="437.6" r="2.9"/>
<circle cx="190.7" cy="431.2" r="2.9"/>
<circle cx="191.8" cy="430.8" r="2.9"/>
<circle cx="194.0" cy="435.8" r="2.9"/>
<circle cx="195.1" cy="433.3" r="2.9"/>
<circle cx="196.2" cy="435.7" r="2.9"/>
<circle cx="198.4" cy="435.2" r="2.9"/>
<circle cx="199.9" cy="436.9" r="2.9"/>
<circle cx="200.6" cy="429.4" r="2.9"/>
<circle cx="203.9" cy="436.3" r="2.9"/>
<circle cx="205.0" cy="433.0" r="2.9"/>
<circle cx="208.4" cy="435.2" r="2.9"/>
<circle cx="209.5" cy="434.4" r="2.9"/>
<circle cx="211.7" cy="433.0" r="2.9"/>
<circle cx="212.1" cy="436.6" r="2.9"/>
<circle cx="212.8" cy="435.1" r="2.9"/>
<circle cx="213.9" cy="434.3" r="2.9"/>
<circle cx="215.3" cy="435.2" r="2.9"/>
<circle cx="216.3" cy="433.1" r="2.9"/>
<circle cx="217.3" cy="435.9" r="2.9"/>
<circle cx="218.3" cy="432.9" r="2.9"/>
<circle cx="219.3" cy="432.1" r="2.9"/>
<circle cx="220.3" cy="430.1" r="2.9"/>
<circle cx="221.3" cy="434.0" r="2.9"/>
<circle cx="222.3" cy="436.1" r="2.9"/>
<circle cx="223.3" cy="434.0" r="2.9"/>
<circle cx="224.3" cy="432.6" r="2.9"/>
<circle cx="225.3" cy="436.6" r="2.9"/>
<circle cx="226.3" cy="435.7" r="2.9"/>
<circle cx="227.3" cy="434.9" r="2.9"/>
<circle cx="228.3" cy="435.3" r="2.9"/>
<circle cx="229.3" cy="435.3" r="2.9"/>
<circle cx="230.3" cy="437.3" r="2.9"/>
<circle cx="231.3" cy="437.0" r="2.9"/>
<circle cx="232.3" cy="434.2" r="2.9"/>
<circle cx="233.3" cy="434.0" r="2.9"/>
<circle cx="234.3" cy="435.3" r="2.9"/>
<circle cx="235.3" cy="435.6" r="2.9"/>
<circle cx="236.3" cy="434.0" r="2.9"/>
<circle cx="237.3" cy="434.2" r="2.9"/>
<circle cx="238.3" cy="435.7" r="2.9"/>
<circle cx="239.3" cy="436.5" r="2.9"/>
<circle cx="240.3" cy="437.2" r="2.9"/>
<circle cx="241.3" cy="437.2" r="2.9"/>
<circle cx="242.3" cy="441.6" r="2.9"/>
<circle cx="243.3" cy="421.2" r="2.9"/>
<circle cx="244.2" cy="435.7" r="2.9"/>
<circle cx="244.9" cy="405.2" r="2.9"/>
<circle cx="245.6" cy="433.5" r="2.9"/>
<circle cx="246.3" cy="436.3" r="2.9"/>
<circle cx="247.0" cy="437.1" r="2.9"/>
<circle cx="247.7" cy="435.5" r="2.9"/>
<circle cx="248.4" cy="446.7" r="2.9"/>
<circle cx="249.1" cy="436.3" r="2.9"/>
<circle cx="249.8" cy="416.5" r="2.9"/>
<circle cx="250.5" cy="433.6" r="2.9"/>
<circle cx="251.2" cy="434.7" r="2.9"/>
<circle cx="251.9" cy="433.9" r="2.9"/>
<circle cx="252.6" cy="432.2" r="2.9"/>
<circle cx="253.3" cy="435.9" r="2.9"/>
<circle cx="254.0" cy="446.1" r="2.9"/>
<circle cx="254.7" cy="430.8" r="2.9"/>
<circle cx="255.4" cy="462.3" r="2.9"/>
<circle cx="256.1" cy="435.5" r="2.9"/>
<circle cx="256.8" cy="432.9" r="2.9"/>
<circle cx="257.5" cy="415.8" r="2.9"/>
<circle cx="258.2" cy="449.6" r="2.9"/>
<circle cx="258.9" cy="431.6" r="2.9"/>
<circle cx="259.6" cy="433.9" r="2.9"/>
<circle cx="260.3" cy="406.7" r="2.9"/>
<circle cx="261.0" cy="415.3" r="2.9"/>
<circle cx="261.7" cy="430.9" r="2.9"/>
<circle cx="262.4" cy="456.6" r="2.9"/>
<circle cx="263.1" cy="417.8" r="2.9"/>
<circle cx="263.8" cy="431.8" r="2.9"/>
<circle cx="264.5" cy="446.2" r="2.9"/>
<circle cx="265.2" cy="430.6" r="2.9"/>
<circle cx="265.9" cy="414.4" r="2.9"/>
<circle cx="266.6" cy="434.9" r="2.9"/>
<circle cx="267.3" cy="414.7" r="2.9"/>
<circle cx="268.0" cy="454.7" r="2.9"/>
<circle cx="268.7" cy="425.9" r="2.9"/>
<circle cx="269.4" cy="433.5" r="2.9"/>
<circle cx="270.1" cy="430.2" r="2.9"/>
<circle cx="270.8" cy="431.8" r="2.9"/>
<circle cx="271.5" cy="435.0" r="2.9"/>
<circle cx="272.2" cy="460.1" r="2.9"/>
<circle cx="272.9" cy="434.8" r="2.9"/>
<circle cx="273.6" cy="413.8" r="2.9"/>
<circle cx="274.3" cy="433.1" r="2.9"/>
<circle cx="275.0" cy="435.2" r="2.9"/>
<circle cx="275.7" cy="446.4" r="2.9"/>
<circle cx="276.4" cy="432.0" r="2.9"/>
<circle cx="277.1" cy="415.5" r="2.9"/>
<circle cx="277.8" cy="430.5" r="2.9"/>
<circle cx="278.5" cy="415.1" r="2.9"/>
<circle cx="279.2" cy="406.9" r="2.9"/>
<circle cx="279.9" cy="413.8" r="2.9"/>
<circle cx="280.6" cy="431.4" r="2.9"/>
<circle cx="281.3" cy="427.2" r="2.9"/>
<circle cx="282.0" cy="432.6" r="2.9"/>
<circle cx="282.7" cy="434.5" r="2.9"/>
<circle cx="283.4" cy="436.8" r="2.9"/>
<circle cx="284.1" cy="433.5" r="2.9"/>
<circle cx="284.8" cy="417.5" r="2.9"/>
<circle cx="285.5" cy="434.9" r="2.9"/>
<circle cx="286.2" cy="431.7" r="2.9"/>
<circle cx="286.9" cy="431.9" r="2.9"/>
<circle cx="287.6" cy="434.3" r="2.9"/>
<circle cx="288.3" cy="433.7" r="2.9"/>
<circle cx="289.0" cy="434.0" r="2.9"/>
<circle cx="289.7" cy="454.8" r="2.9"/>
<circle cx="290.4" cy="430.3" r="2.9"/>
<circle cx="291.1" cy="433.2" r="2.9"/>
<circle cx="291.8" cy="434.1" r="2.9"/>
<circle cx="292.5" cy="418.5" r="2.9"/>
<circle cx="293.2" cy="455.1" r="2.9"/>
<circle cx="293.9" cy="426.6" r="2.9"/>
<circle cx="294.6" cy="432.0" r="2.9"/>
<circle cx="295.3" cy="407.2" r="2.9"/>
<circle cx="296.0" cy="425.8" r="2.9"/>
<circle cx="296.7" cy="415.5" r="2.9"/>
<circle cx="297.4" cy="446.2" r="2.9"/>
<circle cx="298.1" cy="447.0" r="2.9"/>
<circle cx="298.8" cy="433.9" r="2.9"/>
<circle cx="299.5" cy="431.1" r="2.9"/>
<circle cx="300.2" cy="433.3" r="2.9"/>
<circle cx="300.9" cy="437.0" r="2.9"/>
<circle cx="106.3" cy="418.0" r="2.9"/>
<circle cx="113.0" cy="424.4" r="2.9"/>
<circle cx="128.6" cy="410.1" r="2.9"/>
<circle cx="189.5" cy="415.9" r="2.9"/>
<circle cx="191.4" cy="380.9" r="2.9"/>
<circle cx="190.5" cy="415.4" r="2.9"/>
<circle cx="191.0" cy="420.1" r="2.9"/>
<circle cx="219.0" cy="408.5" r="2.9"/>
<circle cx="221.5" cy="415.9" r="2.9"/>
<circle cx="228.5" cy="395.8" r="2.9"/>
<circle cx="227.5" cy="421.7" r="2.9"/>
<circle cx="237.0" cy="417.5" r="2.9"/>
<circle cx="244.1" cy="404.2" r="2.9"/>
<circle cx="245.0" cy="415.4" r="2.9"/>
<circle cx="244.6" cy="459.9" r="2.9"/>
<circle cx="246.6" cy="446.1" r="2.9"/>
<circle cx="259.0" cy="407.4" r="2.9"/>
<circle cx="262.3" cy="415.4" r="2.9"/>
<circle cx="271.4" cy="410.1" r="2.9"/>
<circle cx="277.1" cy="413.2" r="2.9"/>
<circle cx="284.6" cy="406.4" r="2.9"/>
<circle cx="285.4" cy="416.4" r="2.9"/>
<circle cx="285.9" cy="426.5" r="2.9"/>
<circle cx="296.1" cy="407.4" r="2.9"/>
<circle cx="300.2" cy="416.4" r="2.9"/>
<circle cx="301.0" cy="430.7" r="2.9"/>
<circle cx="301.9" cy="438.7" r="2.9"/>
<circle cx="253.2" cy="449.3" r="2.9"/>
<circle cx="254.0" cy="453.5" r="2.9"/>
<circle cx="272.2" cy="470.5" r="2.9"/>
<circle cx="274.7" cy="463.6" r="2.9"/>
<circle cx="278.0" cy="455.1" r="2.9"/>
<circle cx="287.0" cy="463.1" r="2.9"/>
<circle cx="289.5" cy="453.5" r="2.9"/>
<circle cx="294.5" cy="447.7" r="2.9"/>
<circle cx="264.8" cy="451.9" r="2.9"/>
<circle cx="268.0" cy="451.9" r="2.9"/>
<circle cx="287.1" cy="395.8" r="2.9"/>
</g>
<path d="M59.5,434.7 L59.9,434.7 L60.2,434.7 L60.6,434.7 L61.0,434.7 L61.3,434.7 L61.7,434.7 L62.1,434.7 L62.5,434.7 L62.8,434.7 L63.2,434.7 L63.6,434.7 L63.9,434.7 L64.3,434.7 L64.7,434.7 L65.0,434.7 L65.4,434.7 L65.8,434.7 L66.2,434.7 L66.5,434.7 L66.9,434.7 L67.3,434.7 L67.6,434.7 L68.0,434.7 L68.4,434.7 L68.7,434.7 L69.1,434.7 L69.5,434.7 L69.9,434.7 L70.2,434.7 L70.6,434.7 L71.0,434.7 L71.3,434.7 L71.7,434.7 L72.1,434.7 L72.4,434.7 L72.8,434.7 L73.2,434.7 L73.6,434.7 L73.9,434.7 L74.3,434.7 L74.7,434.7 L75.0,434.7 L75.4,434.7 L75.8,434.7 L76.1,434.7 L76.5,434.7 L76.9,434.7 L77.3,434.7 L77.6,434.7 L78.0,434.7 L78.4,434.7 L78.7,434.7 L79.1,434.7 L79.5,434.7 L79.8,434.7 L80.2,434.7 L80.6,434.7 L81.0,434.7 L81.3,434.7 L81.7,434.7 L82.1,434.7 L82.4,434.7 L82.8,434.7 L83.2,434.7 L83.5,434.7 L83.9,434.7 L84.3,434.7 L84.7,434.7 L85.0,434.7 L85.4,434.7 L85.8,434.7 L86.1,434.7 L86.5,434.7 L86.9,434.7 L87.2,434.7 L87.6,434.7 L88.0,434.7" fill="none" stroke="#ef553b" stroke-width="1.5" stroke-linejoin="round" clip-path="url(#c2)" opacity="1"/>
<path d="M88.0,434.7 L87.7,426.5 L88.1,426.5 L88.5,432.1 L88.8,435.0 L89.2,436.5 L89.6,421.2 L89.9,433.6 L90.3,436.5 L90.7,436.5 L91.1,421.8 L91.4,429.7 L91.8,435.5 L92.2,433.3 L92.5,422.4 L92.9,424.4 L93.3,425.6 L93.6,433.8 L94.0,432.4 L94.4,429.2 L94.7,436.5 L95.1,431.4 L95.5,435.2 L95.8,424.8 L96.2,436.5 L96.6,429.2 L97.0,425.0 L97.3,435.5 L97.7,424.4 L98.1,425.0 L98.4,414.8 L98.8,428.6 L99.2,436.6 L99.5,432.3 L99.9,433.2 L100.3,435.7 L100.6,434.6 L101.0,426.5 L101.4,434.7 L101.8,436.1 L102.1,411.7 L102.5,433.1 L102.9,426.7 L103.2,435.5 L103.6,434.7 L104.0,426.6 L104.3,412.2 L104.7,432.2 L105.1,435.5 L105.4,436.6 L105.8,423.5 L106.2,436.4 L106.5,391.0 L106.9,434.1 L107.3,423.0 L107.7,433.7 L108.0,423.4 L108.4,431.4 L108.8,435.4 L109.1,427.9 L109.5,429.3 L109.9,429.1 L110.2,432.8 L110.6,435.6 L111.0,429.9 L111.3,436.3 L111.7,428.9 L112.1,422.8 L112.4,434.0 L112.8,426.7 L113.2,435.8 L113.6,433.8 L113.9,426.7 L114.3,434.0 L114.7,428.5 L115.0,406.9 L115.4,423.3 L115.8,422.0 L116.1,428.3 L116.5,426.4 L116.9,436.1 L117.2,428.5 L117.6,425.5 L118.0,433.7 L118.4,431.5 L118.7,432.6 L119.1,422.8 L119.5,434.7 L119.8,433.7 L120.2,436.6 L120.6,433.5 L120.9,430.1 L121.3,423.4 L121.7,423.7 L122.0,434.6 L122.4,404.2 L122.8,435.8 L123.1,426.1 L123.5,436.0 L123.9,433.7 L124.3,436.4 L124.6,406.4 L125.0,426.0 L125.4,436.1 L125.7,395.2 L126.1,435.3 L126.5,432.4 L126.8,431.5 L127.2,392.1 L127.6,425.2 L127.9,435.1 L128.3,373.0 L128.7,436.5 L129.0,436.6 L129.4,435.8 L129.8,434.4 L130.2,405.3 L130.5,424.5 L130.9,432.6 L131.3,433.0 L131.6,429.4 L132.0,425.3 L132.4,410.6 L132.7,426.8 L133.1,433.7 L133.5,430.8 L133.8,428.0 L134.2,432.3 L134.6,428.9 L135.0,428.8 L135.3,436.6 L135.7,436.5 L136.1,412.2 L136.4,435.6 L136.8,435.7 L137.2,436.5 L137.5,435.6 L137.9,430.6 L138.3,424.6 L138.6,434.3 L139.0,434.1 L139.4,433.5 L139.7,429.2 L140.1,427.0 L140.5,423.3 L140.9,422.8 L141.2,428.6 L141.6,434.4 L142.0,426.1 L142.3,435.5 L142.7,425.0 L143.1,432.2 L143.4,417.5 L143.8,431.8 L144.2,434.7 L144.5,432.4 L144.9,436.5 L145.3,436.5 L145.7,431.8 L146.0,432.7 L146.4,425.9 L146.8,436.6 L147.1,431.4 L147.5,432.5 L147.9,430.7 L148.2,428.2 L148.6,431.9 L149.0,431.3 L149.3,432.4 L149.7,430.4 L150.1,420.1 L150.4,431.5 L150.8,429.3 L151.2,435.8 L151.6,422.0 L151.9,427.8 L152.3,422.9 L152.7,434.9 L153.0,433.1 L153.4,435.2 L153.8,436.5 L154.1,436.6 L154.5,435.4 L154.9,425.2 L155.2,436.0 L155.6,429.0 L156.0,435.4 L156.3,436.5 L156.7,435.8 L157.1,429.2 L157.5,432.3 L157.8,431.5 L158.2,433.0 L158.6,415.9 L158.9,432.5 L159.3,423.7 L159.7,435.7 L160.0,428.1 L160.4,435.3 L160.8,435.8 L161.1,434.6 L161.5,436.4 L161.9,423.4 L162.3,434.1 L162.6,435.9 L163.0,419.1 L163.4,436.5 L163.7,435.6 L164.1,433.5 L164.5,430.6 L164.8,422.2 L165.2,424.5 L165.6,435.4 L165.9,430.4 L166.3,423.8 L166.7,436.3 L167.0,425.4 L167.4,433.8 L167.8,427.0 L168.2,434.6 L168.5,430.2 L168.9,432.2 L169.3,436.3 L169.6,427.5 L170.0,421.2 L170.4,432.6 L170.7,433.9 L171.1,423.1 L171.5,434.0 L171.8,424.8 L172.2,433.5 L172.6,434.0 L172.9,434.2 L173.3,436.5 L173.7,435.1 L174.1,435.5 L174.4,436.5 L174.8,431.6 L175.2,433.2 L175.5,436.6 L175.9,436.0 L176.3,423.8 L176.6,436.2 L177.0,434.1 L177.4,423.0 L177.7,436.3 L178.1,433.6 L178.5,412.2 L178.9,436.6 L179.2,436.5 L179.6,423.5 L180.0,429.1 L180.3,435.2 L180.7,432.6 L181.1,417.5 L181.4,424.5 L181.8,423.0 L182.2,436.4 L182.5,431.9 L182.9,435.9 L183.3,433.7 L183.6,427.9 L184.0,428.5 L184.4,435.8 L184.8,434.5 L185.1,433.4 L185.5,433.9 L185.9,410.1 L186.2,426.9 L186.6,434.5 L187.0,433.2 L187.3,436.5 L187.7,434.1 L188.4,442.4 L189.5,431.2 L190.7,427.5 L191.0,318.4 L191.8,430.4 L192.9,442.9 L194.0,437.0 L195.1,436.9 L196.2,437.1 L196.6,440.0 L197.3,436.4 L198.4,437.1 L199.5,438.3 L199.9,441.3 L200.6,423.5 L201.7,437.1 L202.8,425.2 L203.9,441.1 L205.0,435.1 L206.1,436.9 L207.3,425.9 L208.4,438.6 L209.5,436.6 L210.6,437.1 L211.7,429.8 L212.1,440.2 L212.8,436.1 L213.5,440.6 L213.9,437.0" fill="none" stroke="#ef553b" stroke-width="1.1" stroke-linejoin="round" clip-path="url(#c2)" opacity="1"/>
<path d="M213.9,437.0 L215.0,439.5 L216.1,439.1 L217.2,410.6 L218.3,442.4 L219.4,371.4 L220.5,444.0 L221.6,388.3 L222.8,445.1 L223.9,413.2 L225.0,451.9 L226.1,444.3 L227.2,445.6 L228.3,346.5 L229.4,416.9 L230.5,447.7 L231.6,447.7 L232.7,447.4 L233.8,450.9 L234.9,446.4 L236.0,391.5 L237.1,451.3 L238.2,454.6 L239.4,432.0 L240.5,405.3 L241.6,450.4 L242.7,456.2 L243.8,454.1 L244.1,413.6 L244.5,469.2 L244.9,472.1 L245.3,432.5 L245.6,363.4 L246.0,417.0 L246.4,464.1 L246.7,432.7 L247.1,430.9 L247.5,363.4 L247.8,436.4 L248.2,432.2 L248.6,431.6 L248.9,455.7 L249.3,432.0 L249.7,431.8 L250.0,412.9 L250.4,359.7 L250.8,450.9 L251.2,385.8 L251.5,435.1 L251.9,455.7 L252.3,408.9 L252.6,438.9 L253.0,473.1 L253.4,422.0 L253.7,433.7 L254.1,472.9 L254.5,389.5 L254.8,435.3 L255.2,383.6 L255.6,433.9 L256.0,465.2 L256.3,433.0 L256.7,430.6 L257.1,436.1 L257.4,436.5 L257.8,436.5 L258.2,429.7 L258.5,433.9 L258.9,369.8 L259.3,419.2 L259.6,435.1 L260.0,459.4 L260.4,433.1 L260.7,399.1 L261.1,473.9 L261.5,435.3 L261.9,434.8 L262.2,433.4 L262.6,387.3 L263.0,431.3 L263.3,430.9 L263.7,431.4 L264.1,465.2 L264.4,435.6 L264.8,473.9 L265.2,419.4 L265.5,432.9 L265.9,382.5 L266.3,437.1 L266.6,436.8 L267.0,432.0 L267.4,432.8 L267.8,473.3 L268.1,460.9 L268.5,436.6 L268.9,432.7 L269.2,431.5 L269.6,430.3 L270.0,374.0 L270.3,433.8 L270.7,435.4 L271.1,431.1 L271.4,430.2 L271.8,434.5 L272.2,371.9 L272.6,482.2 L272.9,434.5 L273.3,438.0 L273.7,434.1 L274.0,432.3 L274.4,436.1 L274.8,379.9 L275.1,450.0 L275.5,431.0 L275.9,432.5 L276.2,443.3 L276.6,389.7 L277.0,381.4 L277.3,433.5 L277.7,434.0 L278.1,468.4 L278.5,433.5 L278.8,433.2 L279.2,385.0 L279.6,472.4 L279.9,432.9 L280.3,434.5 L280.7,435.5 L281.0,437.8 L281.4,432.3 L281.8,435.2 L282.1,463.6 L282.5,432.5 L282.9,435.4 L283.2,395.2 L283.6,445.3 L284.0,431.9 L284.4,431.5 L284.7,397.8 L285.1,464.3 L285.5,433.6 L285.8,433.2 L286.2,433.8 L286.6,368.7 L286.9,474.7 L287.3,469.1 L287.7,382.3 L288.0,347.0 L288.4,429.6 L288.8,456.9 L289.2,404.3 L289.5,434.3 L289.9,361.3 L290.3,474.1 L290.6,382.2 L291.0,458.3 L291.4,379.3 L291.7,431.8 L292.1,430.6 L292.5,436.2 L292.8,431.9 L293.2,382.0 L293.6,433.0 L293.9,428.8 L294.3,431.2 L294.7,432.8 L295.1,461.5 L295.4,371.4 L295.8,396.5 L296.2,468.3 L296.5,433.1 L296.9,421.6 L297.3,461.8 L297.6,429.6 L298.0,431.6 L298.4,431.0 L298.7,433.8 L299.1,432.5 L299.5,388.9 L299.9,436.1 L300.2,429.6 L300.6,421.5 L301.0,450.3" fill="none" stroke="#ef553b" stroke-width="1.4" stroke-linejoin="round" clip-path="url(#c2)" opacity="1"/>
<text transform="translate(41.00,487.82) scale(0.8,1)" font-size="8.4" text-anchor="end" fill="#2a3f5f" font-family="'Liberation Sans', Arial, sans-serif">−10</text>
<text transform="translate(41.00,461.32) scale(0.8,1)" font-size="8.4" text-anchor="end" fill="#2a3f5f" font-family="'Liberation Sans', Arial, sans-serif">−5</text>
<text transform="translate(41.00,434.82) scale(0.8,1)" font-size="8.4" text-anchor="end" fill="#2a3f5f" font-family="'Liberation Sans', Arial, sans-serif">0</text>
<text transform="translate(41.00,408.32) scale(0.8,1)" font-size="8.4" text-anchor="end" fill="#2a3f5f" font-family="'Liberation Sans', Arial, sans-serif">5</text>
<text transform="translate(41.00,381.82) scale(0.8,1)" font-size="8.4" text-anchor="end" fill="#2a3f5f" font-family="'Liberation Sans', Arial, sans-serif">10</text>
<text transform="translate(41.00,355.32) scale(0.8,1)" font-size="8.4" text-anchor="end" fill="#2a3f5f" font-family="'Liberation Sans', Arial, sans-serif">15</text>
<text transform="translate(41.00,328.82) scale(0.8,1)" font-size="8.4" text-anchor="end" fill="#2a3f5f" font-family="'Liberation Sans', Arial, sans-serif">20</text>
<text x="98.80" y="501.93" font-size="7.3" text-anchor="middle" fill="#2a3f5f" font-family="'Liberation Sans', Arial, sans-serif">Jul 2017</text>
<text x="166.68" y="501.93" font-size="7.3" text-anchor="middle" fill="#2a3f5f" font-family="'Liberation Sans', Arial, sans-serif">Jan 2018</text>
<text x="233.45" y="501.93" font-size="7.3" text-anchor="middle" fill="#2a3f5f" font-family="'Liberation Sans', Arial, sans-serif">Jul 2018</text>
<text x="301.33" y="501.93" font-size="7.3" text-anchor="middle" fill="#2a3f5f" font-family="'Liberation Sans', Arial, sans-serif">Jan 2019</text>
<text x="16.10" y="279.10" font-size="10.1" text-anchor="start" fill="#2a3f5f" font-family="'Liberation Sans', Arial, sans-serif" textLength="164" lengthAdjust="spacingAndGlyphs">LSTM Processed Rainfall Noise Data</text>
<text transform="translate(12.9,400.6) rotate(-90)" x="0" y="0" font-size="8.6" text-anchor="middle" fill="#2a3f5f" font-family="'Liberation Sans', Arial, sans-serif" textLength="19.8" lengthAdjust="spacingAndGlyphs">Close</text>
<text x="180.05" y="517.80" font-size="8.4" text-anchor="middle" fill="#2a3f5f" font-family="'Liberation Sans', Arial, sans-serif" textLength="17.4" lengthAdjust="spacingAndGlyphs">Date</text>
<circle cx="335.4" cy="316.3" r="2.8" fill="#636efa" stroke="#2b2d30" stroke-width="0.9"/>
<line x1="326" x2="343.5" y1="327.2" y2="327.2" stroke="#ef553b" stroke-width="1.1"/>
<text x="346.70" y="318.90" font-size="7.0" text-anchor="start" fill="#2a3f5f" font-family="'Liberation Sans', Arial, sans-serif" textLength="33" lengthAdjust="spacingAndGlyphs">Prediction</text>
<text x="346.70" y="330.10" font-size="7.0" text-anchor="start" fill="#2a3f5f" font-family="'Liberation Sans', Arial, sans-serif" textLength="43.7" lengthAdjust="spacingAndGlyphs">Ground Truth</text>
<text x="188.9" y="542.6" font-size="8.4" fill="#111" font-family="'Liberation Serif', 'Times New Roman', serif"><tspan font-weight="bold">(c)</tspan> S-9</text>
</svg>
</body></html>
